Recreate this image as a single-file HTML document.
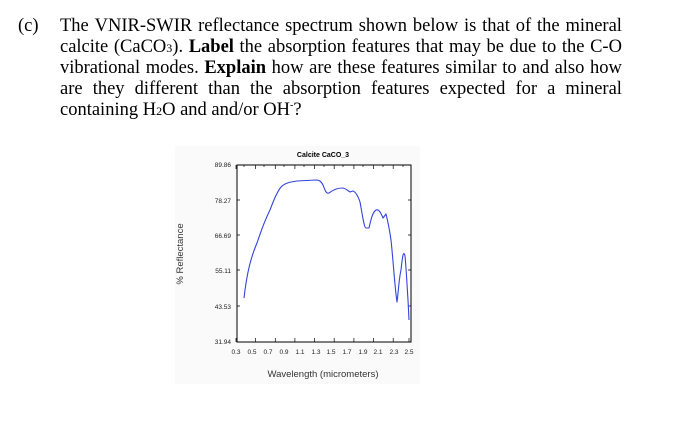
<!DOCTYPE html>
<html><head><style>
body{margin:0;background:#fff;width:681px;height:423px;overflow:hidden;position:relative}
.q{position:absolute;left:18px;top:16px;font-family:"Liberation Serif",serif;font-size:18.5px;line-height:21px;color:#000}
.q .l{position:absolute;left:42px;width:562px;height:21px;white-space:nowrap}
sup,.s{line-height:0}
</style></head><body>
<div class="q">
<div style="position:absolute;left:0;top:0">(c)</div>
<div class="l" style="top:0;display:flex;justify-content:space-between"><span>The</span><span>VNIR-SWIR</span><span>reflectance</span><span>spectrum</span><span>shown</span><span>below</span><span>is</span><span>that</span><span>of</span><span>the</span><span>mineral</span></div>
<div class="l" style="top:21px;display:flex;justify-content:space-between"><span>calcite</span><span>(CaCO<span class="s" style="font-size:12px">3</span>).</span><span><b>Label</b></span><span>the</span><span>absorption</span><span>features</span><span>that</span><span>may</span><span>be</span><span>due</span><span>to</span><span>the</span><span>C-O</span></div>
<div class="l" style="top:42px;display:flex;justify-content:space-between"><span>vibrational</span><span>modes.</span><span><b>Explain</b></span><span>how</span><span>are</span><span>these</span><span>features</span><span>similar</span><span>to</span><span>and</span><span>also</span><span>how</span></div>
<div class="l" style="top:63px;display:flex;justify-content:space-between"><span>are</span><span>they</span><span>different</span><span>than</span><span>the</span><span>absorption</span><span>features</span><span>expected</span><span>for</span><span>a</span><span>mineral</span></div>
<div class="l" style="top:84px">containing H<span class="s" style="font-size:12px">2</span>O and and/or OH<sup style="font-size:10px">-</sup>?</div>
</div>
<svg width="681" height="423" style="position:absolute;left:0;top:0" font-family="Liberation Sans,sans-serif">
<rect x="175" y="146" width="245" height="238" fill="#fafafa"/>
<rect x="237" y="165" width="174" height="177" fill="#fff" stroke="#000" stroke-width="1"/>
<g stroke="#000" stroke-width="0.7">
<path d="M236,165v4M255.6,165v4M275.3,165v4M294.9,165v4M314.6,165v4M334.2,165v4M353.9,165v4M373.5,165v4M393.2,165v4M244,165v2M264,165v2M284,165v2M304,165v2M324,165v2M343,165v2M363,165v2M383,165v2M403,165v2"/>
<path d="M236,342v-4M255.6,342v-4M275.3,342v-4M294.9,342v-4M314.6,342v-4M334.2,342v-4M353.9,342v-4M373.5,342v-4M393.2,342v-4M409,342v-4"/>
<path d="M237,200h3M237,235h3M237,270h3M237,306h3M411,200h-3M411,235h-3M411,270h-3M411,306h-3"/>
</g>
<g font-size="6.5" fill="#222" text-anchor="end">
<text x="231" y="167">89.86</text><text x="231" y="203">78.27</text><text x="231" y="238">66.69</text><text x="231" y="273">55.11</text><text x="231" y="309">43.53</text><text x="231" y="344">31.94</text>
</g>
<g font-size="6.5" fill="#222" text-anchor="middle">
<text x="236" y="354">0.3</text><text x="252" y="354">0.5</text><text x="268" y="354">0.7</text><text x="284" y="354">0.9</text><text x="300" y="354">1.1</text><text x="316" y="354">1.3</text><text x="331" y="354">1.5</text><text x="347" y="354">1.7</text><text x="363" y="354">1.9</text><text x="378" y="354">2.1</text><text x="394" y="354">2.3</text><text x="409" y="354">2.5</text>
</g>
<text x="323" y="157" font-size="7" font-weight="bold" text-anchor="middle">Calcite CaCO_3</text>
<text x="323" y="377" font-size="9.5" fill="#333" text-anchor="middle">Wavelength (micrometers)</text>
<text transform="translate(183,254) rotate(-90)" font-size="9.5" fill="#333" text-anchor="middle">% Reflectance</text>
<path fill="none" stroke="#3344dd" stroke-width="1.1" stroke-linejoin="round" d="M244,298 C247,272 251,257 257,243 C262,228 266,218 270,210 C274,199 277,192 281,187 C285,183 290,182 297,181 L316,180 C319,180 321,181 323,185 C325,190 326,194 329,193 C333,190 337,188 342,188 C346,188 348,191 350,192 L353,191 C356,192 358,196 360,202 C362,212 364,228 366,228 L369,228 C371,220 372,213 376,210 C379,209 381,213 383,218 L386,214 C387,218 389,226 391,240 C393,258 395,290 397,302 C398,296 399,278 401,270 C402,262 403,248 405,256 C406,265 407,285 408,300 L409,320"/>
</svg>
</body></html>
